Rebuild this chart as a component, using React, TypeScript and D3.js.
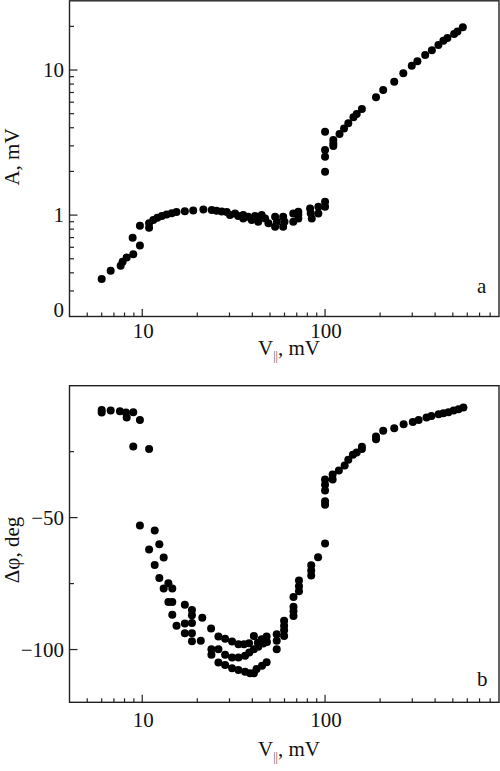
import * as d3 from "d3";

// panel a: amplitude vs parallel voltage
const topV = [
  6.0, 6.72, 7.62, 7.81, 8.22, 8.93, 8.86, 9.71, 9.71, 10.9, 10.9, 11.5, 12.1, 12.8, 13.6, 14.5, 15.4,
  17.1, 19.0, 21.6, 24.0, 25.5, 27.2, 29.0, 30.2, 32.2, 33.5, 35.7, 35.7, 38.0, 39.7, 41.4, 43.1, 45.0,
  47.0, 49.0, 53.3, 53.3, 54.5, 59.0, 59.0, 60.0, 67.0, 67.0, 71.4, 71.4, 71.4, 82.8, 84.6, 83.5, 91.9,
  91.9, 100, 100, 100, 100, 100, 100, 111, 111, 111, 120, 127, 134, 143, 149, 159, 190, 208, 239, 268,
  298, 320, 353, 384, 417, 444, 467, 508, 530, 567,
];
const topA = [
  0.362, 0.413, 0.447, 0.477, 0.511, 0.538, 0.697, 0.618, 0.844, 0.817, 0.877, 0.924, 0.958, 0.984, 1.01,
  1.03, 1.05, 1.065, 1.077, 1.095, 1.083, 1.07, 1.06, 1.05, 1.0, 1.027, 0.984, 1.0, 0.949, 0.973, 0.924,
  0.984, 0.899, 1.0, 0.949, 0.877, 0.973, 0.83, 0.9, 0.973, 0.83, 0.9, 1.027, 0.899, 1.054, 0.949, 1.0,
  1.11, 0.949, 1.03, 1.14, 1.027, 1.235, 1.14, 1.99, 2.52, 2.81, 3.75, 3.29, 3.12, 2.99, 3.62, 3.96, 4.29,
  4.72, 4.97, 5.38, 6.48, 7.28, 8.3, 9.49, 10.7, 11.5, 12.7, 13.7, 14.9, 15.9, 16.6, 17.7, 18.4, 19.7,
];

// panel b: phase shift vs parallel voltage
const botV = [
  6.0, 6.0, 6.72, 7.55, 8.14, 8.22, 8.93, 9.71, 8.93, 10.9, 9.71, 10.9, 11.7, 11.7, 12.4, 12.4, 13.1, 13.1,
  13.9, 13.9, 14.6, 14.6, 14.6, 15.4, 17.1, 17.1, 17.1, 18.7, 18.7, 18.7, 18.7, 18.7, 20.9, 21.3, 23.8,
  23.9, 23.9, 26.1, 26.1, 26.1, 28.4, 28.4, 28.4, 31.0, 31.0, 31.0, 33.6, 33.6, 33.6, 36.0, 36.5, 36.5,
  38.4, 38.5, 38.9, 40.8, 40.8, 40.8, 42.2, 42.9, 43.1, 45.0, 45.2, 45.9, 47.9, 48.1, 47.9, 54.4, 54.4,
  54.4, 59.7, 59.7, 59.7, 59.7, 67.2, 67.2, 67.2, 67.2, 72.0, 72.0, 72.0, 84.0, 84.0, 84.0, 91.6, 100,
  100, 100, 100, 100, 100, 110, 110, 119, 128, 134, 142, 149, 159, 159, 190, 190, 208, 239, 269, 302,
  325, 359, 382, 418, 444, 473, 505, 537, 571,
];
const botPhi = [
  -9.2, -10.2, -9.4, -9.7, -10.2, -12.1, -10.1, -13.0, -23.0, -24.0, -53.0, -62.1, -54.9, -68.0, -60.1,
  -72.9, -65.1, -76.9, -74.9, -82.0, -76.9, -82.0, -86.8, -91.0, -83.0, -90.1, -93.8, -85.0, -87.0, -89.9,
  -93.8, -96.9, -96.7, -88.0, -92.0, -99.9, -102.0, -95.1, -99.9, -104.9, -95.9, -102.0, -105.9, -97.0,
  -103.0, -107.1, -98.0, -103.0, -107.8, -98.0, -102.4, -108.4, -97.6, -101.1, -109.0, -94.9, -99.9,
  -109.0, -107.4, -97.4, -98.9, -96.1, -106.1, -97.7, -95.1, -97.1, -104.8, -94.2, -96.7, -99.9, -89.1,
  -91.0, -92.7, -94.9, -80.1, -83.8, -85.5, -87.3, -73.8, -76.0, -77.9, -68.1, -70.0, -71.9, -65.0, -59.8,
  -43.8, -45.1, -35.6, -37.5, -39.7, -33.7, -35.6, -32.1, -30.2, -28.1, -26.2, -25.3, -23.1, -24.0, -19.3,
  -20.3, -17.1, -16.1, -14.6, -13.8, -13.0, -12.1, -11.5, -10.8, -10.4, -10.1, -9.4, -8.9, -8.3,
];

const xMajor = [10, 100];
const xMinor = [5, 6, 7, 8, 9, 20, 30, 40, 50, 60, 70, 80, 90, 200, 300, 400, 500, 600, 700, 800];
const topYMajor = [1, 10];
const topYMinor = [0.3, 0.4, 0.5, 0.6, 0.7, 0.8, 0.9, 2, 3, 4, 5, 6, 7, 8, 9, 20];
const topYLabels = [
  { v: 10, t: "10" },
  { v: 1, t: "1" },
  { v: 0.22, t: "0" },
];
const botYMajor = [-50, -100];
const botYMinor = [-25, -75];
const botYLabels = [
  { v: -50, t: "\u221250" },
  { v: -100, t: "\u2212100" },
];

const W = 500;
const H = 771;
const FONT = "'Liberation Serif', 'Times New Roman', serif";
const INK = "#222";

const x = d3.scaleLog().domain([4, 900]).range([69.5, 499.5]);
const yTop = d3.scaleLog().domain([0.2, 30]).range([316.5, 0.8]);
const yBot = d3.scaleLinear().domain([-120, 0]).range([702.3, 385.7]);

type PanelProps = {
  y: (v: number) => number;
  yTopPx: number;
  yBottomPx: number;
  xs: number[];
  ys: number[];
  yMajor: number[];
  yMinor: number[];
  yLabels: { v: number; t: string }[];
  yTitle: string;
  yTitleCenter: number;
  letter: string;
  letterY: number;
  xLabelY: number;
  xTitleY: number;
};

function Panel(p: PanelProps) {
  const left = x.range()[0];
  const right = 499;
  return (
    <g>
      <rect
        x={left}
        y={p.yTopPx}
        width={right - left}
        height={p.yBottomPx - p.yTopPx}
        fill="none"
        stroke={INK}
        strokeWidth={1.4}
      />
      {xMinor.map((t) => (
        <line key={"xm" + t} x1={x(t)} x2={x(t)} y1={p.yBottomPx} y2={p.yBottomPx - 4} stroke={INK} strokeWidth={1.2} />
      ))}
      {xMajor.map((t) => (
        <line key={"xM" + t} x1={x(t)} x2={x(t)} y1={p.yBottomPx} y2={p.yBottomPx - 7.5} stroke={INK} strokeWidth={1.2} />
      ))}
      {xMajor.map((t) => (
        <text key={"xl" + t} x={x(t) + 1} y={p.xLabelY} textAnchor="middle" fontFamily={FONT} fontSize={21} fill="#111">
          {t}
        </text>
      ))}
      {p.yMinor.map((t) => (
        <line key={"ym" + t} x1={left} x2={left + 4.5} y1={p.y(t)} y2={p.y(t)} stroke={INK} strokeWidth={1.2} />
      ))}
      {p.yMajor.map((t) => (
        <line key={"yM" + t} x1={left} x2={left + 8} y1={p.y(t)} y2={p.y(t)} stroke={INK} strokeWidth={1.2} />
      ))}
      {p.yLabels.map((l) => (
        <text key={"yl" + l.t} x={64} y={p.y(l.v) + 7} textAnchor="end" fontFamily={FONT} fontSize={21} fill="#111">
          {l.t}
        </text>
      ))}
      {p.xs.map((v, i) => (
        <circle key={"d" + i} cx={x(v)} cy={p.y(p.ys[i])} r={4} fill="#000" />
      ))}
      <text x={289} y={p.xTitleY} textAnchor="middle" fontFamily={FONT} fontSize={21} fill="#111">
        V
        <tspan fontSize={12} dy={5} fill="#555">
          ||
        </tspan>
        <tspan dy={-5} fill="#111">, mV</tspan>
      </text>
      <text
        transform={`translate(19,${p.yTitleCenter}) rotate(-90)`}
        textAnchor="middle"
        fontFamily={FONT}
        fontSize={21}
        fill="#111"
      >
        {p.yTitle}
      </text>
      <text x={477} y={p.letterY} fontFamily={FONT} fontSize={21} fill="#111">
        {p.letter}
      </text>
    </g>
  );
}

export default function App() {
  return (
    <svg
      width={W}
      height={H}
      viewBox={`0 0 ${W} ${H}`}
      style={{ position: "absolute", left: 0, top: 0, background: "#fff" }}
    >
      <Panel
        y={yTop}
        yTopPx={0.8}
        yBottomPx={316.5}
        xs={topV}
        ys={topA}
        yMajor={topYMajor}
        yMinor={topYMinor}
        yLabels={topYLabels}
        yTitle="A, mV"
        yTitleCenter={157}
        letter="a"
        letterY={293}
        xLabelY={338}
        xTitleY={355}
      />
      <Panel
        y={yBot}
        yTopPx={385.7}
        yBottomPx={702.3}
        xs={botV}
        ys={botPhi}
        yMajor={botYMajor}
        yMinor={botYMinor}
        yLabels={botYLabels}
        yTitle={"\u0394\u03c6, deg"}
        yTitleCenter={550}
        letter="b"
        letterY={686}
        xLabelY={727}
        xTitleY={756}
      />
    </svg>
  );
}
